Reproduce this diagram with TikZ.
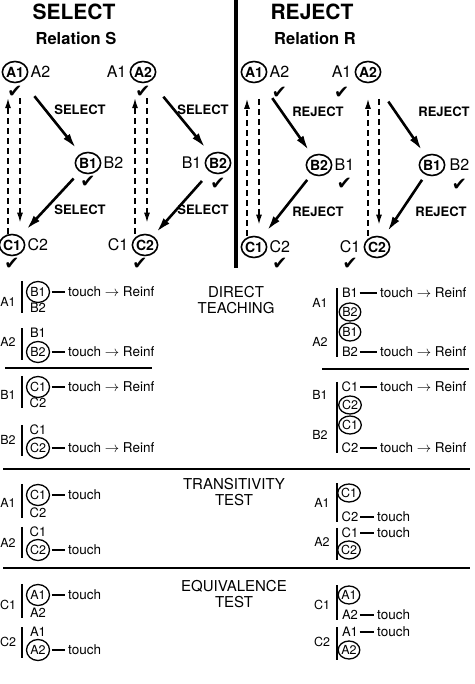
\documentclass[tikz,border=0pt]{standalone}
\usepackage{fontspec}
\setmainfont{TeX Gyre Heros}
\newfontfamily\checkfont{DejaVu Sans}
\usetikzlibrary{arrows.meta,shapes.geometric,positioning}

\begin{document}
\begin{tikzpicture}[x=1pt,y=1pt]
  \tikzstyle{head}=[inner sep=0pt,font=\fontsize{21}{24}\selectfont\bfseries]
  \tikzstyle{relname}=[inner sep=0pt,font=\fontsize{16.5}{19}\selectfont\bfseries]
  \tikzstyle{stim}=[ellipse,draw=black,line width=1.6pt,inner sep=0pt,minimum width=24pt,minimum height=21pt,font=\fontsize{14}{16}\selectfont\bfseries]
  \tikzstyle{other}=[inner sep=0pt,font=\fontsize{16}{18}\selectfont]
  \tikzstyle{ok}=[inner sep=0pt,font=\checkfont\fontsize{18}{18}\selectfont]
  \tikzstyle{trained}=[-{Latex[length=15pt,width=8pt]},line width=2.6pt]
  \tikzstyle{derived}=[-{Latex[length=10pt,width=6pt]},line width=1.5pt,dash pattern=on 6pt off 4pt]
  \tikzstyle{arrowlab}=[inner sep=0pt,font=\fontsize{13}{15}\selectfont\bfseries]
  \tikzstyle{stage}=[inner sep=0pt,align=center,font=\fontsize{15}{15.5}\selectfont]
  \tikzstyle{sample}=[inner sep=0pt,font=\fontsize{12.5}{14}\selectfont]
  \tikzstyle{choice}=[ellipse,draw=black,line width=1.3pt,inner sep=0pt,minimum width=23pt,minimum height=21pt,font=\fontsize{12.5}{14}\selectfont]
  \tikzstyle{tight}=[minimum width=21pt,minimum height=18pt]
  \tikzstyle{alt}=[inner sep=0pt,font=\fontsize{13}{15}\selectfont]
  \tikzstyle{resp}=[inner sep=0pt,anchor=west,font=\fontsize{13.5}{15}\selectfont]
  \tikzstyle{link}=[line width=1.3pt,shorten <=1.5pt,shorten >=3pt]
  \tikzstyle{bar}=[line width=2.2pt]
  \tikzstyle{rule}=[line width=1.7pt]

  \useasboundingbox (0,0) rectangle (474,-684);

  % headings
  \node[head] (hsel) at (74,-12) {SELECT};
  \node[relname] (rsel) at (76,-38) {Relation S};
  \node[head] (hrej) at (312,-12) {REJECT};
  \node[relname] (rrej) at (315,-38) {Relation R};
  \draw[line width=3.5pt] (236,0) -- (236,-268);

  % relation S, left
  \node[stim] (slA1) at (15,-72) {A1};
  \node[other, right=2pt of slA1] (slA2) {A2};
  \node[ok, below=3pt of slA1] (slAk) {✔};
  \node[stim] (slB1) at (88,-163) {B1};
  \node[other, right=2pt of slB1] (slB2) {B2};
  \node[ok, below=2pt of slB1] (slBk) {✔};
  \node[stim] (slC1) at (12,-245) {C1};
  \node[other, right=2pt of slC1] (slC2) {C2};
  \node[ok, below=2pt of slC1] (slCk) {✔};

  \node[arrowlab] (sll1) at (80,-110) {SELECT};
  \node[arrowlab] (sll2) at (80,-210) {SELECT};

  \draw[trained, shorten <=19pt, shorten >=7pt] (slA1) -- (slB1);
  \draw[trained, shorten <=9pt, shorten >=9pt] (slB1) -- (slC1);
  \draw[derived] ([xshift=-4pt]slC1.north) -- ([xshift=-4pt]slC1.north |- slAk.south);
  \draw[derived] ([xshift=8pt]slC1.north |- slAk.south) -- ([xshift=8pt,yshift=11pt]slC1.north);

  % relation S, right
  \node[stim] (srA2) at (143,-72) {A2};
  \node[other, left=3pt of srA2] (srA1) {A1};
  \node[ok, below=3pt of srA2] (srAk) {✔};
  \node[stim] (srB2) at (218,-163) {B2};
  \node[other, left=3pt of srB2] (srB1) {B1};
  \node[ok, below=4pt of srB2] (srBk) {✔};
  \node[stim] (srC2) at (145,-245) {C2};
  \node[other, left=3pt of srC2] (srC1) {C1};
  \node[ok, below=2pt of srC2, xshift=-5pt] (srCk) {✔};

  \node[arrowlab] (srl1) at (203,-110) {SELECT};
  \node[arrowlab] (srl2) at (203,-210) {SELECT};

  \draw[trained, shorten <=20pt, shorten >=8pt] (srA2) -- (srB2);
  \draw[trained, shorten <=12pt, shorten >=5pt] (srB2) -- (srC2);
  \draw[derived] ([xshift=-10pt]srC2.north) -- ([xshift=-10pt]srC2.north |- srAk.south);
  \draw[derived] ([xshift=2pt]srC2.north |- srAk.south) -- ([xshift=2pt,yshift=11pt]srC2.north);

  % relation R, left
  \node[stim] (rlA1) at (254,-72) {A1};
  \node[other, right=2pt of rlA1] (rlA2) {A2};
  \node[ok, below=9pt of rlA2] (rlAk) {✔};
  \node[stim] (rlB2) at (319,-165) {B2};
  \node[other, right=2pt of rlB2] (rlB1) {B1};
  \node[ok, below=7pt of rlB1] (rlBk) {✔};
  \node[stim] (rlC1) at (254,-247) {C1};
  \node[other, right=2pt of rlC1] (rlC2) {C2};
  \node[ok, below=5pt of rlC2] (rlCk) {✔};

  \node[arrowlab] (rll1) at (318,-112) {REJECT};
  \node[arrowlab] (rll2) at (318,-212) {REJECT};

  \draw[trained, shorten <=20pt, shorten >=6pt] (rlA1) -- (rlB2);
  \draw[trained, shorten <=7pt, shorten >=9pt] (rlB2) -- (rlC1);
  \draw[derived] ([xshift=-7pt]rlC1.north) -- ([xshift=-7pt]rlC1.north |- rlAk.south);
  \draw[derived] ([xshift=5pt]rlC1.north |- rlAk.south) -- ([xshift=5pt,yshift=11pt]rlC1.north);

  % relation R, right
  \node[stim] (rrA2) at (368,-72) {A2};
  \node[other, left=3pt of rrA2] (rrA1) {A1};
  \node[ok, below=9pt of rrA1] (rrAk) {✔};
  \node[stim] (rrB1) at (432,-165) {B1};
  \node[other, right=4pt of rrB1] (rrB2) {B2};
  \node[ok, below=8pt of rrB2] (rrBk) {✔};
  \node[stim] (rrC2) at (377,-247) {C2};
  \node[other, left=3pt of rrC2] (rrC1) {C1};
  \node[ok, below=5pt of rrC1] (rrCk) {✔};

  \node[arrowlab] (rrl1) at (444,-112) {REJECT};
  \node[arrowlab] (rrl2) at (441,-212) {REJECT};

  \draw[trained, shorten <=24pt, shorten >=6pt] (rrA2) -- (rrB1);
  \draw[trained, shorten <=6pt, shorten >=7pt] (rrB1) -- (rrC2);
  \draw[derived] ([xshift=-9pt]rrC2.north) -- ([xshift=-9pt]rrC2.north |- rrAk.south);
  \draw[derived] ([xshift=2pt]rrC2.north |- rrAk.south) -- ([xshift=2pt,yshift=11pt]rrC2.north);

  % direct teaching
  \node[stage] (dt) at (236,-300) {DIRECT\\TEACHING};

  \node[sample] (dlA1) at (8,-302) {A1};
  \node[choice] (dlA1B1) at (38,-292) {B1};
  \node[alt] (dlA1B2) at (38,-308) {B2};
  \node[resp] (dlA1t) at (68,-292) {touch $\rightarrow$ Reinf};
  \draw[link] (dlA1B1) -- (dlA1t);
  \draw[bar] ([xshift=-16pt]dlA1B1.north) -- ([xshift=-16pt]dlA1B1.north |- dlA1B2.south);

  \node[sample] (dlA2) at (8,-342) {A2};
  \node[alt] (dlA2B1) at (38,-333) {B1};
  \node[choice] (dlA2B2) at (38,-352) {B2};
  \node[resp] (dlA2t) at (68,-352) {touch $\rightarrow$ Reinf};
  \draw[link] (dlA2B2) -- (dlA2t);
  \draw[bar] ([xshift=-16pt]dlA2B1.north) -- ([xshift=-16pt,yshift=3pt]dlA2B1.north |- dlA2B2.south);

  \draw[rule] (5,-368) -- (152,-368);

  \node[sample] (dlB1) at (8,-395) {B1};
  \node[choice] (dlB1C1) at (38,-387) {C1};
  \node[alt] (dlB1C2) at (38,-403) {C2};
  \node[resp] (dlB1t) at (68,-387) {touch $\rightarrow$ Reinf};
  \draw[link] (dlB1C1) -- (dlB1t);
  \draw[bar] ([xshift=-16pt]dlB1C1.north) -- ([xshift=-16pt]dlB1C1.north |- dlB1C2.south);

  \node[sample] (dlB2) at (8,-440) {B2};
  \node[alt] (dlB2C1) at (38,-430) {C1};
  \node[choice] (dlB2C2) at (38,-448) {C2};
  \node[resp] (dlB2t) at (68,-448) {touch $\rightarrow$ Reinf};
  \draw[link] (dlB2C2) -- (dlB2t);
  \draw[bar] ([xshift=-16pt]dlB2C1.north) -- ([xshift=-16pt,yshift=3pt]dlB2C1.north |- dlB2C2.south);

  \node[sample] (drA1) at (320,-303) {A1};
  \node[alt] (drA1B1) at (350,-293) {B1};
  \node[choice, tight] (drA1B2) at (350,-312) {B2};
  \node[resp] (drA1t) at (380,-293) {touch $\rightarrow$ Reinf};
  \draw[link] (drA1B1) -- (drA1t);
  \draw[bar] ([xshift=-13pt]drA1B1.north) -- ([xshift=-13pt]drA1B1.north |- drA1B2.south);

  \node[sample] (drA2) at (320,-342) {A2};
  \node[choice, tight] (drA2B1) at (350,-332) {B1};
  \node[alt] (drA2B2) at (350,-352) {B2};
  \node[resp] (drA2t) at (380,-352) {touch $\rightarrow$ Reinf};
  \draw[link] (drA2B2) -- (drA2t);
  \draw[bar] ([xshift=-13pt]drA2B1.north) -- ([xshift=-13pt]drA2B1.north |- drA2B2.south);

  \draw[rule] (322,-369) -- (469,-369);

  \node[sample] (drB1) at (320,-395) {B1};
  \node[alt] (drB1C1) at (350,-387) {C1};
  \node[choice, tight] (drB1C2) at (350,-405) {C2};
  \node[resp] (drB1t) at (380,-387) {touch $\rightarrow$ Reinf};
  \draw[link] (drB1C1) -- (drB1t);
  \draw[bar] ([xshift=-13pt]drB1C1.north) -- ([xshift=-13pt]drB1C1.north |- drB1C2.south);

  \node[sample] (drB2) at (320,-435) {B2};
  \node[choice, tight] (drB2C1) at (350,-425) {C1};
  \node[alt] (drB2C2) at (350,-448) {C2};
  \node[resp] (drB2t) at (380,-448) {touch $\rightarrow$ Reinf};
  \draw[link] (drB2C2) -- (drB2t);
  \draw[bar] ([xshift=-13pt]drB2C1.north) -- ([xshift=-13pt]drB2C1.north |- drB2C2.south);

  \draw[rule] (3,-469) -- (470,-469);

  % transitivity test
  \node[stage] (tt) at (234,-492) {TRANSITIVITY\\TEST};

  \node[sample] (xlA1) at (8,-503) {A1};
  \node[choice] (xlA1C1) at (38,-495) {C1};
  \node[alt] (xlA1C2) at (38,-513) {C2};
  \node[resp] (xlA1t) at (68,-495) {touch};
  \draw[link] (xlA1C1) -- (xlA1t);
  \draw[bar] ([xshift=-16pt]xlA1C1.north) -- ([xshift=-16pt]xlA1C1.north |- xlA1C2.south);

  \node[sample] (xlA2) at (8,-543) {A2};
  \node[alt] (xlA2C1) at (38,-532) {C1};
  \node[choice] (xlA2C2) at (38,-550) {C2};
  \node[resp] (xlA2t) at (68,-550) {touch};
  \draw[link] (xlA2C2) -- (xlA2t);
  \draw[bar] ([xshift=-16pt]xlA2C1.north) -- ([xshift=-16pt,yshift=3pt]xlA2C1.north |- xlA2C2.south);

  \node[sample] (xrA1) at (322,-503) {A1};
  \node[choice, tight] (xrA1C1) at (349,-493) {C1};
  \node[alt] (xrA1C2) at (350,-517) {C2};
  \node[resp] (xrA1t) at (377,-517) {touch};
  \draw[link] (xrA1C2) -- (xrA1t);
  \draw[bar] ([xshift=-12pt]xrA1C1.north) -- ([xshift=-12pt]xrA1C1.north |- xrA1C2.south);

  \node[sample] (xrA2) at (322,-542) {A2};
  \node[alt] (xrA2C1) at (350,-533) {C1};
  \node[choice, tight] (xrA2C2) at (349,-550) {C2};
  \node[resp] (xrA2t) at (377,-533) {touch};
  \draw[link] (xrA2C1) -- (xrA2t);
  \draw[bar] ([xshift=-13pt]xrA2C1.north) -- ([xshift=-13pt]xrA2C1.north |- xrA2C2.south);

  \draw[rule] (3,-568) -- (470,-568);

  % equivalence test
  \node[stage] (et) at (234,-594) {EQUIVALENCE\\TEST};

  \node[sample] (qlC1) at (8,-605) {C1};
  \node[choice] (qlC1A1) at (38,-595) {A1};
  \node[alt] (qlC1A2) at (38,-613) {A2};
  \node[resp] (qlC1t) at (68,-595) {touch};
  \draw[link] (qlC1A1) -- (qlC1t);
  \draw[bar] ([xshift=-16pt]qlC1A1.north) -- ([xshift=-16pt]qlC1A1.north |- qlC1A2.south);

  \node[sample] (qlC2) at (8,-642) {C2};
  \node[alt] (qlC2A1) at (38,-632) {A1};
  \node[choice] (qlC2A2) at (38,-650) {A2};
  \node[resp] (qlC2t) at (68,-650) {touch};
  \draw[link] (qlC2A2) -- (qlC2t);
  \draw[bar] ([xshift=-16pt]qlC2A1.north) -- ([xshift=-16pt,yshift=3pt]qlC2A1.north |- qlC2A2.south);

  \node[sample] (qrC1) at (322,-605) {C1};
  \node[choice, tight] (qrC1A1) at (349,-595) {A1};
  \node[alt] (qrC1A2) at (350,-615) {A2};
  \node[resp] (qrC1t) at (377,-615) {touch};
  \draw[link] (qrC1A2) -- (qrC1t);
  \draw[bar] ([xshift=-12pt]qrC1A1.north) -- ([xshift=-12pt]qrC1A1.north |- qrC1A2.south);

  \node[sample] (qrC2) at (322,-642) {C2};
  \node[alt] (qrC2A1) at (350,-632) {A1};
  \node[choice, tight] (qrC2A2) at (349,-650) {A2};
  \node[resp] (qrC2t) at (377,-632) {touch};
  \draw[link] (qrC2A1) -- (qrC2t);
  \draw[bar] ([xshift=-13pt]qrC2A1.north) -- ([xshift=-13pt]qrC2A1.north |- qrC2A2.south);

\end{tikzpicture}
\end{document}
